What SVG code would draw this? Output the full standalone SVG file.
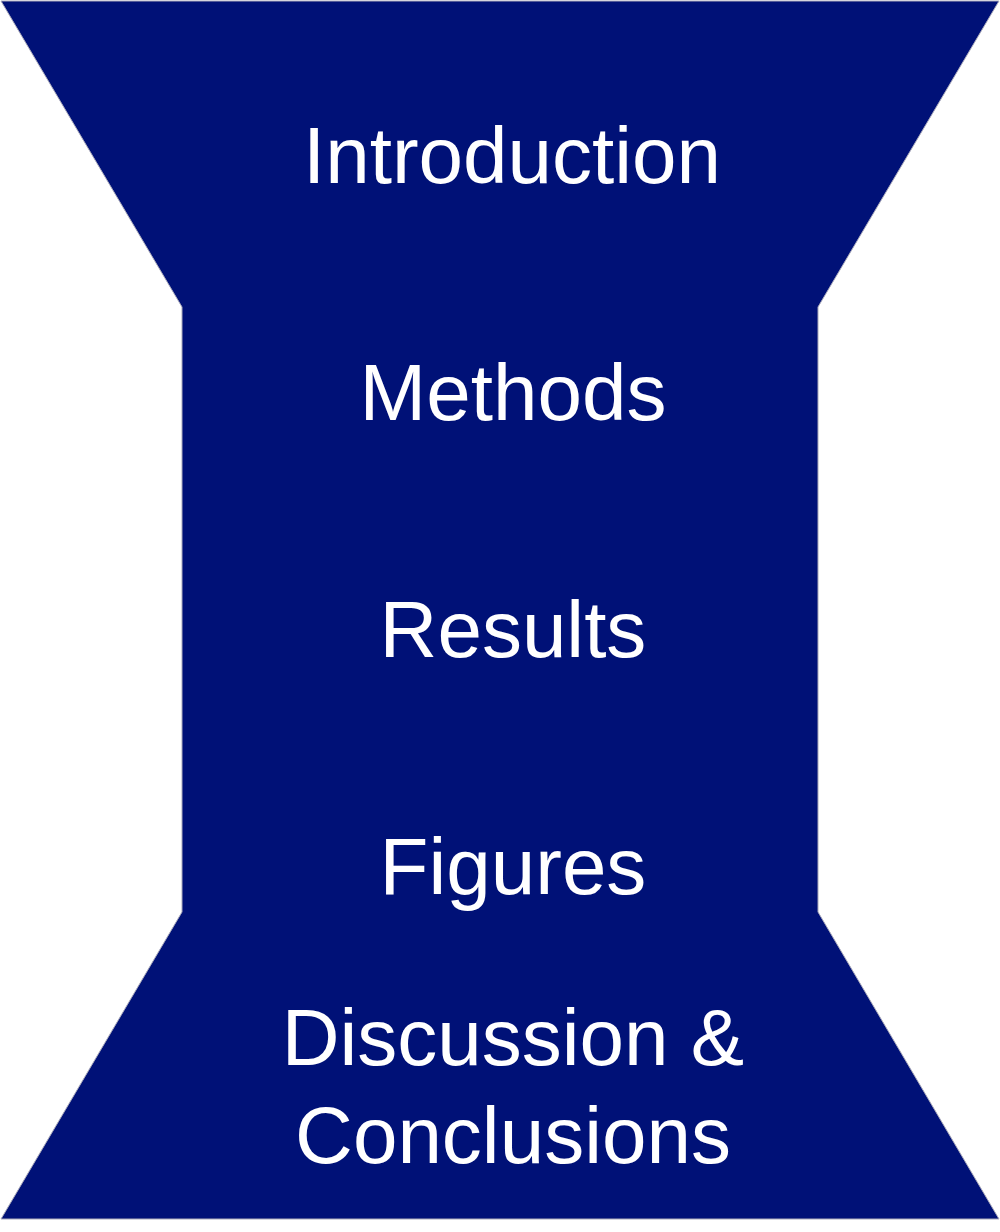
<svg xmlns="http://www.w3.org/2000/svg" width="1000" height="1232" viewBox="0 0 1000 1232">
<style>text{font-family:"Liberation Sans",Arial,sans-serif;font-size:80px;fill:#fff;text-anchor:middle}</style>
<rect width="1000" height="1232" fill="#fff"/>
<g id="shape"><polygon points="1,1 999,1 818,307 818,912 999,1219 1,1219 182,912 182,307" fill="#001177" stroke="#aab" stroke-width="1"/></g>
<g id="labels">
<text x="512" y="183">Introduction</text>
<text x="513" y="420">Methods</text>
<text x="513" y="657">Results</text>
<text x="513" y="894">Figures</text>
<text x="513" y="1065">Discussion &amp;</text>
<text x="513" y="1163">Conclusions</text>
</g>
</svg>
